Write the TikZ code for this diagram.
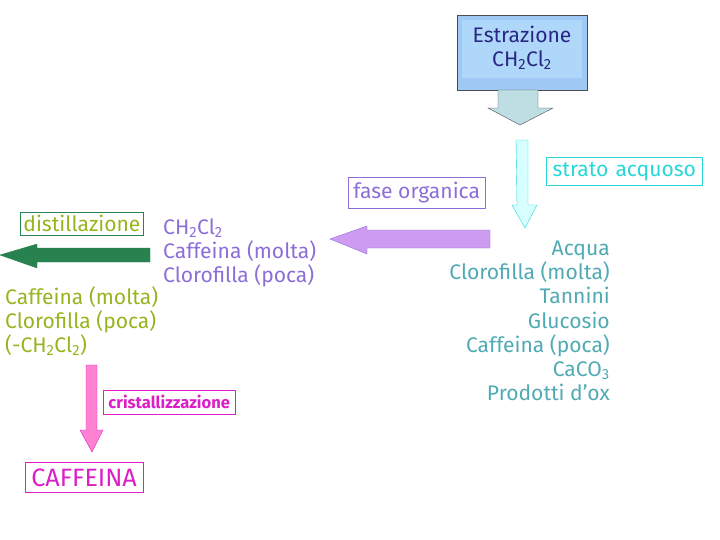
\documentclass[tikz,border=0pt]{standalone}
\usepackage{fontspec}
\setmainfont{Fira Sans}
\usetikzlibrary{positioning}
\definecolor{estblue}{RGB}{160,200,245}
\definecolor{estin}{RGB}{175,215,250}
\definecolor{navy}{RGB}{40,40,130}
\definecolor{blockarr}{RGB}{190,222,228}
\definecolor{acqua}{RGB}{40,215,215}
\definecolor{acquatxt}{RGB}{80,170,180}
\definecolor{lightcyan}{RGB}{215,255,255}
\definecolor{viola}{RGB}{140,110,215}
\definecolor{violafill}{RGB}{205,155,240}
\definecolor{verde}{RGB}{40,130,80}
\definecolor{oliva}{RGB}{150,180,30}
\definecolor{rosa}{RGB}{255,130,210}
\definecolor{magenta2}{RGB}{220,30,200}
\newcommand{\pedice}[1]{\textsubscript{#1}}

\begin{document}
\begin{tikzpicture}[x=0.035cm,y=-0.035cm,
  every node/.style={font=\fontsize{21}{24}\selectfont\mdseries},
  lbl/.style={draw,inner sep=5pt,line width=0.8pt},
  blk/.style={align=left,anchor=north west,inner sep=0pt}]
        \useasboundingbox (0,0) rectangle (720,540);
        % estrazione
        \draw [gray!60!black,fill=estblue] (457,15) rectangle (587,90);
        \fill [estin] (462,20) rectangle (582,78);
        \node [align=center,text=navy] (estr) at (522,48) {Estrazione\\CH\pedice{2}Cl\pedice{2}};
        \draw [gray!60!black,fill=blockarr] (498,90) -- (538,90) -- (538,108) -- (553,108)
              -- (520,125) -- (488,108) -- (498,108) -- cycle;
        % strato acquoso
        \draw [acqua,fill=lightcyan] (516,140) -- (528,140) -- (528,205) -- (537,205)
              -- (525,228) -- (512,205) -- (517,205) -- cycle;
        \node [lbl,draw=acqua,text=acqua,anchor=north west,text width=5.1cm,
               align=center] (acq) at (546,157) {strato acquoso};
        \node [blk,align=right,anchor=north east,text=acquatxt] (acqlist) at (610,241)
              {Acqua\\Clorofilla (molta)\\Tannini\\Glucosio\\Caffeina (poca)\\CaCO\pedice{3}\\Prodotti d'ox};
        % fase organica
        \node [lbl,draw=viola,text=viola,anchor=north west] (org) at (348,177) {fase organica};
        \draw [viola,fill=violafill] (490,230) -- (490,248) -- (367,248) -- (367,254)
              -- (330,239) -- (367,226) -- (367,230) -- cycle;
        \node [blk,text=viola] (orglist) at (163,218) {CH\pedice{2}Cl\pedice{2}\\Caffeina (molta)\\Clorofilla (poca)};
        % distillazione
        \node [lbl,draw=verde,text=oliva,anchor=north west,inner sep=3pt] (dist) at (20,212) {distillazione};
        \draw [verde,fill=verde] (150,248) -- (150,262) -- (37,262) -- (37,268)
              -- (0,255) -- (37,244) -- (37,248) -- cycle;
        \node [blk,text=oliva] (distlist) at (5,286) {Caffeina (molta)\\Clorofilla (poca)\\(-CH\pedice{2}Cl\pedice{2})};
        % cristallizzazione
        \draw [magenta2,fill=rosa] (86,365) -- (97,365) -- (97,430) -- (103,430)
              -- (92,452) -- (80,430) -- (86,430) -- cycle;
        \node [lbl,draw=magenta2,text=magenta2,anchor=north west,font=\fontsize{16.5}{18}\selectfont\bfseries]
              (crist) at (103,390) {cristallizzazione};
        \node [lbl,draw=magenta2,text=magenta2,anchor=north west,font=\fontsize{25}{28}\selectfont,
               inner sep=6pt] (caff) at (25,462) {CAFFEINA};
\end{tikzpicture}
\end{document}
